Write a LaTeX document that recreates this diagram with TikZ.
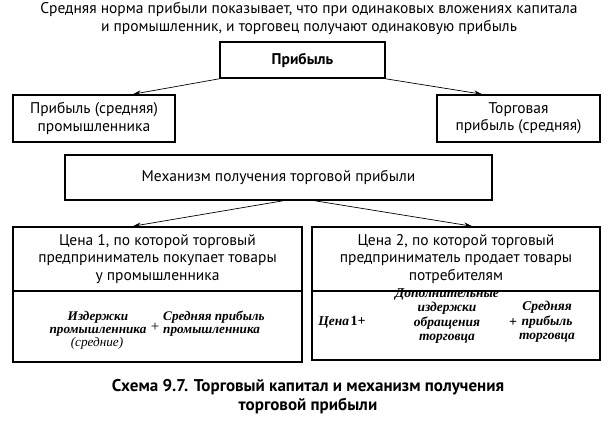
\documentclass[tikz,border=0pt]{standalone}
\usepackage{fontspec}
\setmainfont{PT Sans}
\newfontfamily\serifbi{Liberation Serif}
\usetikzlibrary{arrows.meta}
\tikzset{
  box/.style={draw, line width=1.6pt, inner sep=0pt, align=center, font=\fontsize{15.5}{17.5}\selectfont},
  arr/.style={line width=0.7pt, -{Stealth[length=8pt,width=5pt]}},
  bi/.style={inner sep=0pt, align=center, font=\serifbi\bfseries\itshape\fontsize{13.2}{12.8}\selectfont},
  plain/.style={inner sep=0pt, align=center}
}
\begin{document}
\begin{tikzpicture}[x=1pt,y=-1pt]
\useasboundingbox (0,0) rectangle (615,423);
\node[plain, font=\fontsize{15.5}{18}\selectfont] (note) at (309,18)
  {Средняя норма прибыли показывает, что при одинаковых вложениях капитала\\
   и промышленник, и торговец получают одинаковую прибыль};
\node[box, minimum width=165pt, minimum height=36pt, font=\bfseries\fontsize{15.5}{17.5}\selectfont] (prib) at (302.5,60) {Прибыль};
\node[box, minimum width=162pt, minimum height=47pt] (left) at (94,118.5) {Прибыль (средняя)\\промышленника};
\node[box, minimum width=163pt, minimum height=47pt] (right) at (518.5,118.5) {Торговая\\прибыль (средняя)};
\node[box, minimum width=427pt, minimum height=45pt] (mech) at (278.5,177.5) {Механизм получения торговой прибыли};
\node[box, minimum width=289pt, minimum height=64pt] (p1) at (157.5,259) {Цена 1, по которой торговый\\предприниматель покупает товары\\у промышленника};
\node[box, minimum width=289pt, minimum height=71pt] (p1b) at (157.5,326.5) {};
\node[box, minimum width=288pt, minimum height=64pt] (p2) at (456,259) {Цена 2, по которой торговый\\предприниматель продает товары\\потребителям};
\node[box, minimum width=288pt, minimum height=69pt] (p2b) at (456,325.5) {};
\draw[arr] (prib.south west) -- ([xshift=39pt]left.north);
\draw[arr] (prib.south east) -- ([xshift=-36.5pt]right.north);
\draw[arr] ([xshift=4.5pt]mech.south) -- ([xshift=-24.5pt]p1.north);
\draw[arr] ([xshift=36.5pt]mech.south) -- ([xshift=16pt]p2.north);
% lower-left contents
\node[bi] (izd) at (98,323.5) {Издержки\\промышленника};
\node[plain, font=\serifbi\itshape\fontsize{13.2}{12.5}\selectfont] (sred) at (97,343.5) {(средние)};
\node[plain, font=\serifbi\fontsize{15}{15}\selectfont] (plus1) at (155,327) {+};
\node[bi, align=left, anchor=west] (spr) at (163,323.5) {Средняя прибыль\\промышленника};
% lower-right contents
\node[plain] (cena) at (342,322) {{\serifbi\bfseries\itshape\fontsize{13.5}{12.5}\selectfont Цена}\,{\serifbi\bfseries\fontsize{14}{12.5}\selectfont 1+}};
\node[bi, font=\serifbi\bfseries\itshape\fontsize{13.5}{14.3}\selectfont] (dop) at (447,316) {Дополнительные\\издержки\\обращения\\торговца};
\node[plain, font=\serifbi\bfseries\fontsize{14}{12}\selectfont] (plus2) at (513,323) {+};
\node[bi, font=\serifbi\bfseries\itshape\fontsize{13.5}{14.3}\selectfont] (str) at (547,322) {Средняя\\прибыль\\торговца};
% caption
\node[plain, font=\bfseries\fontsize{17}{19}\selectfont] (cap) at (308,397)
  {Схема 9.7. Торговый капитал и механизм получения\\торговой прибыли};
\end{tikzpicture}
\end{document}
